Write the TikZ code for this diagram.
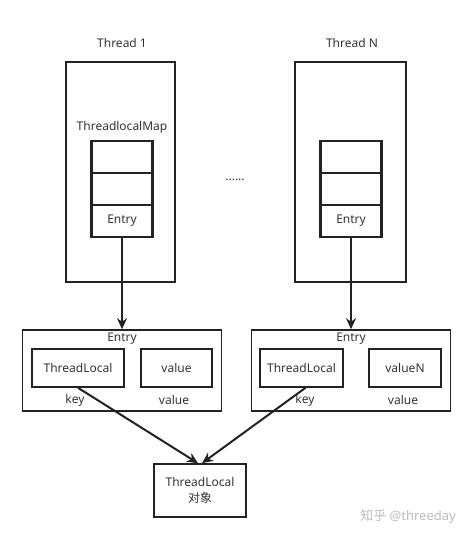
\documentclass[tikz,border=0pt]{standalone}
\usepackage{fontspec}
\setmainfont{Noto Sans}
\newfontfamily\cjk{Noto Sans CJK SC}
\usetikzlibrary{arrows.meta}
\definecolor{linegray}{HTML}{222222}
\definecolor{textgray}{HTML}{333333}
\definecolor{markgray}{HTML}{BBBBBB}
\tikzset{every path/.style={line width=1.6pt,color=linegray},
  box/.style={draw,rectangle,inner sep=0pt,text=textgray,font=\fontsize{12}{16}\selectfont},
  cell/.style={box,line width=2.2pt,minimum width=61pt,minimum height=32pt},
  lbl/.style={text=textgray,inner sep=0pt,font=\fontsize{12}{16}\selectfont},
  link/.style={line width=2pt,-{Stealth[length=11pt,width=10pt]}}}
\begin{document}
\begin{tikzpicture}[x=1pt,y=-1pt]
\useasboundingbox (0,0) rectangle (474,540);
% thread 1
\node[lbl] (t1) at (122,43) {Thread 1};
\node[box,minimum width=109pt,minimum height=220pt] (th1) at (120.5,172) {};
\node[lbl] (map1) at (122,127) {ThreadlocalMap};
\node[cell] (a1) at (122,157) {};
\node[cell] (a2) at (122,189) {};
\node[cell] (a3) at (122,221) {Entry};
% thread N
\node[lbl] (tn) at (352,43) {Thread N};
\node[box,minimum width=111pt,minimum height=220pt] (thn) at (350.5,172) {};
\node[cell] (b1) at (351,157) {};
\node[cell] (b2) at (351,189) {};
\node[cell] (b3) at (351,221) {Entry};
\node[lbl] (dots) at (235,180) {......};
% entries
\node[box,minimum width=199pt,minimum height=81pt] (e1) at (122,370.5) {};
\node[lbl] (e1l) at (122,339) {Entry};
\node[box,minimum width=92pt,minimum height=38pt] (k1) at (78,368) {ThreadLocal};
\node[box,minimum width=71pt,minimum height=38pt] (v1) at (176.5,368) {value};
\node[lbl] (k1l) at (75,400) {key};
\node[lbl] (v1l) at (174,400) {value};
\node[box,minimum width=199pt,minimum height=81pt] (e2) at (351,370.5) {};
\node[lbl] (e2l) at (351,339) {Entry};
\node[box,minimum width=83pt,minimum height=38pt] (k2) at (301.5,368) {ThreadLocal};
\node[box,minimum width=72pt,minimum height=38pt] (v2) at (405,368) {valueN};
\node[lbl] (k2l) at (305,400) {key};
\node[lbl] (v2l) at (403,400) {value};
% object
\node[box,minimum width=92pt,minimum height=53pt,align=center] (obj) at (200,490.5) {ThreadLocal\\{\cjk 对象}};
\draw[link] (a3) -- (e1);
\draw[link] (b3) -- (e2);
\draw[link] (k1.south) -- ([xshift=-2pt]obj.north);
\draw[link] ([xshift=4pt]k2.south) -- ([xshift=2pt]obj.north);
\node[lbl,text=markgray,font=\fontsize{13}{15}\selectfont] (mark) at (408,517) {{\cjk 知乎} @threeday};
\end{tikzpicture}
\end{document}
